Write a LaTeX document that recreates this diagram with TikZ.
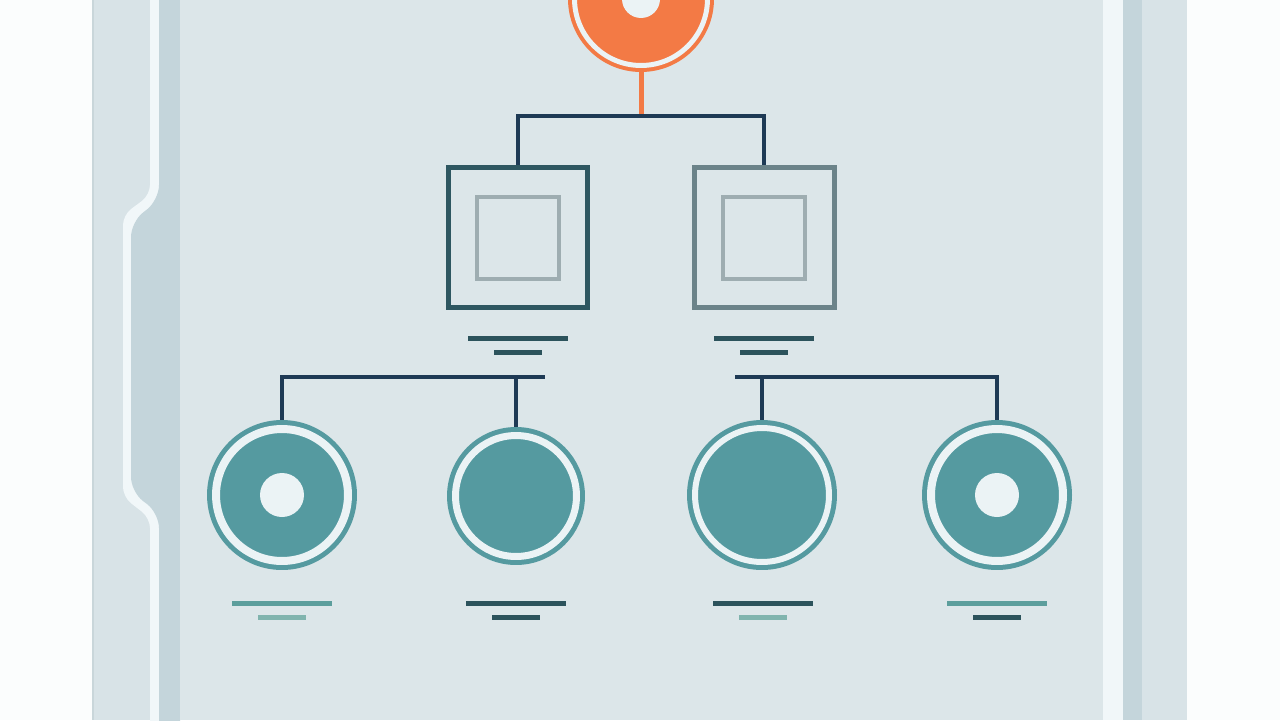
\documentclass[tikz,border=0pt]{standalone}
\usepackage{xcolor}
\usetikzlibrary{positioning, backgrounds}

\definecolor{pagew}{HTML}{FBFDFD}
\definecolor{panelbg}{HTML}{DCE6E9}
\definecolor{panelside}{HTML}{D8E3E7}
\definecolor{edgeline}{HTML}{C9D6DA}
\definecolor{railhi}{HTML}{F1F7F9}
\definecolor{raildark}{HTML}{C4D5DB}
\definecolor{navy}{HTML}{1E3A55}
\definecolor{rootor}{HTML}{F37A45}
\definecolor{tealc}{HTML}{559AA0}
\definecolor{gapw}{HTML}{EBF3F5}
\definecolor{sqdark}{HTML}{2E5761}
\definecolor{sqgray}{HTML}{6B8389}
\definecolor{innergray}{HTML}{9EADB1}
\definecolor{bardark}{HTML}{2C535C}
\definecolor{barteal}{HTML}{5C9E9C}
\definecolor{barlight}{HTML}{80B4AE}

\tikzset{
  joinline/.style={draw=navy, line width=0.07cm},
  disc/.style={circle, inner sep=0pt, line width=0.1cm, fill=tealc, draw=tealc, double=gapw},
  holed/.style={path picture={\fill[gapw] (path picture bounding box.center) circle (#1);}},
  boxframe/.style={rectangle, inner sep=0pt, line width=0.1cm, minimum size=2.8cm},
  boxinner/.style={rectangle, inner sep=0pt, line width=0.08cm, minimum size=1.64cm, draw=innergray},
  longbar/.style={rectangle, inner sep=0pt, minimum width=2cm, minimum height=0.1cm},
  shortbar/.style={longbar, minimum width=0.96cm},
}

\begin{document}
\begin{tikzpicture}[x=0.02cm, y=-0.02cm]
      \useasboundingbox (0,0) rectangle (1280,720);

      % folder panel
      \begin{scope}[on background layer]
        \fill[pagew] (0,0) rectangle (1280,720);
        \fill[panelside] (93,0) rectangle (1187,720);
        \draw[edgeline, line width=0.03cm] (93,0) -- (93,720);
        \fill[railhi, rounded corners=0.2cm] (150,-20) -- (150,195) -- (123,215) -- (123,497) -- (150,518) -- (150,740) -- (180,740) -- (180,-20) -- cycle;
        \fill[raildark, rounded corners=0.3cm] (159,-20) -- (159,200) -- (131,222) -- (131,492) -- (159,513) -- (159,740) -- (180,740) -- (180,-20) -- cycle;
        \fill[panelbg] (180,0) rectangle (1103,720);
        \fill[railhi] (1103,0) rectangle (1123,720);
        \fill[raildark] (1123,0) rectangle (1142,720);
      \end{scope}

      % root
      \node[disc, fill=rootor, draw=rootor, line width=0.08cm, double distance=0.1cm, minimum size=2.66cm, holed=0.38cm] (root) at (641,-1) {};

      % second level
      \node[boxframe, draw=sqdark] (sqA) at (518,237.5) {};
      \node[boxinner] (sqAin) at (518,238) {};
      \node[boxframe, draw=sqgray] (sqB) at (764,237.5) {};
      \node[boxinner] (sqBin) at (764,238) {};

      \node[longbar, fill=bardark, below=0.52cm of sqA] (capA) {};
      \node[shortbar, fill=bardark, below=0.16cm of capA] (subA) {};
      \node[longbar, fill=bardark, below=0.52cm of sqB] (capB) {};
      \node[shortbar, fill=bardark, below=0.16cm of capB] (subB) {};

      % leaves
      \node[disc, double distance=0.16cm, minimum size=2.64cm, holed=0.44cm] (c1) at (282,495) {};
      \node[disc, double distance=0.14cm, minimum size=2.42cm] (c2) at (516,496) {};
      \node[disc, double distance=0.12cm, minimum size=2.68cm] (c3) at (762,495) {};
      \node[disc, double distance=0.16cm, minimum size=2.64cm, holed=0.44cm] (c4) at (997,495) {};

      \node[longbar, fill=barteal] (cap1) at (282,603) {};
      \node[shortbar, fill=barlight] (sub1) at (282,617) {};
      \node[longbar, fill=bardark] (cap2) at (516,603) {};
      \node[shortbar, fill=bardark] (sub2) at (516,617) {};
      \node[longbar, fill=bardark] (cap3) at (763,603) {};
      \node[shortbar, fill=barlight] (sub3) at (763,617) {};
      \node[longbar, fill=barteal] (cap4) at (997,603) {};
      \node[shortbar, fill=bardark] (sub4) at (997,617) {};

      \coordinate (jTop) at (641,116);
      \coordinate (jL) at (545,377);
      \coordinate (jR) at (735,377);

      \begin{scope}[on background layer]
        \draw[draw=rootor, line width=0.1cm] (root.south) -- (jTop);
        \draw[joinline] (sqA.north) |- (jTop) -| (sqB.north);
        \draw[joinline] (c1.north) |- (jL);
        \draw[joinline] (c2.north) -- (c2.north |- jL);
        \draw[joinline] (c4.north) |- (jR);
        \draw[joinline] (c3.north) -- (c3.north |- jR);
      \end{scope}

    \end{tikzpicture}
\end{document}
